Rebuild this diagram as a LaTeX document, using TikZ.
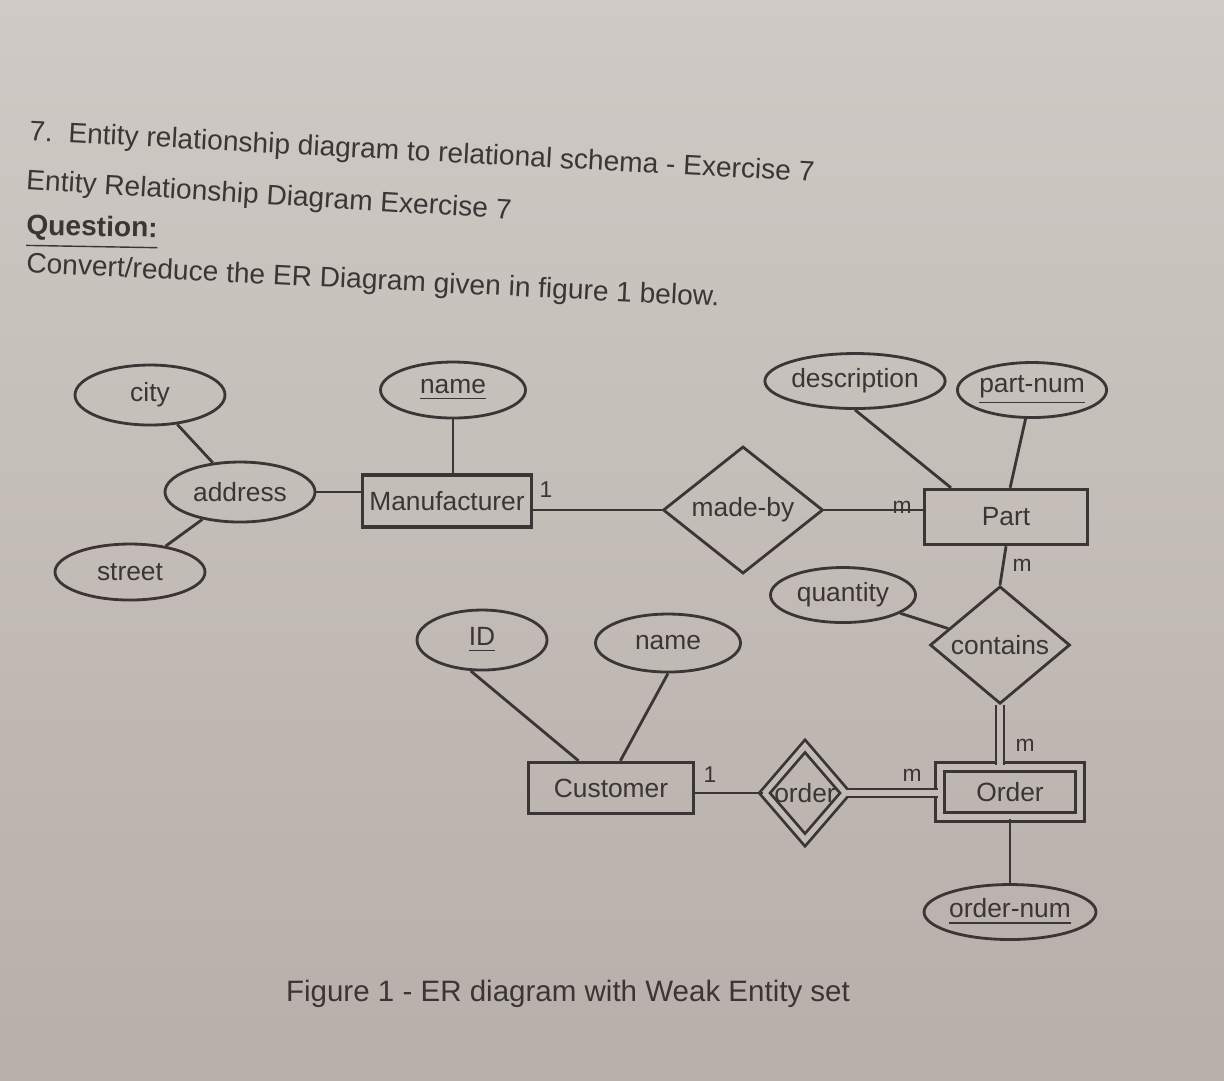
\documentclass[tikz,border=0pt]{standalone}
\usepackage{fontspec}
\setmainfont{Liberation Sans}
\usetikzlibrary{shapes.geometric}
\definecolor{paperTop}{HTML}{CFCAC5}
\definecolor{paperMid}{HTML}{C3BCB6}
\definecolor{paperBot}{HTML}{B7AFA9}
\definecolor{inkGrey}{HTML}{3B3535}

\begin{document}
\begin{tikzpicture}[x=0.1mm, y=-0.1mm, color=inkGrey, line width=0.8pt,
    every node/.style={font=\fontsize{7.5}{9}\selectfont},
    attr/.style={draw, ellipse, inner sep=0pt},
    entity/.style={draw, rectangle, inner sep=0pt, line width=1pt},
    rel/.style={draw, diamond, inner sep=0pt},
    weak/.style={double=paperMid, double distance=1.5pt},
    card/.style={inner sep=1pt, font=\fontsize{6.5}{7}\selectfont},
    head/.style={anchor=west, inner sep=0pt, font=\fontsize{8}{10}\selectfont}]

    % paper
    \useasboundingbox (0,0) rectangle (1224,1080);
    \shade[top color=paperTop, bottom color=paperBot] (0,0) rectangle (1224,1080);

    % heading
    \node[head, rotate=-3] (t1) at (28,133) {7.\ \ Entity relationship diagram to relational schema - Exercise 7};
    \node[head, rotate=-3.5] (t2) at (25,182) {Entity Relationship Diagram Exercise 7};
    \node[head, rotate=-1] (t3) at (25,231) {\textbf{\underline{Question:}}};
    \node[head, rotate=-2.8] (t4) at (25,265) {Convert/reduce the ER Diagram given in figure 1 below.};

    % entities
    \node[entity, minimum width=1.69cm, minimum height=0.52cm] (manu) at (447,501) {Manufacturer};
    \node[entity, minimum width=1.63cm, minimum height=0.55cm] (part) at (1006,517) {Part};
    \node[entity, minimum width=1.65cm, minimum height=0.51cm] (cust) at (611,788) {Customer};
    \node[entity, weak, minimum width=1.40cm, minimum height=0.50cm] (order) at (1010,792) {Order};

    % relationships
    \node[rel, minimum width=1.6cm, minimum height=0.76cm] (madeby) at (743,510) {made-by};
    \node[rel, minimum width=1.4cm, minimum height=0.75cm] (contains) at (1000,645) {contains};
    \node[rel, weak, aspect=0.86, minimum width=0.82cm, minimum height=0.95cm] (oorder) at (805,793) {order};

    % attributes
    \node[attr, minimum width=1.5cm, minimum height=0.6cm] (city) at (150,395) {city};
    \node[attr, minimum width=1.45cm, minimum height=0.56cm] (mname) at (453,390) {\underline{name}};
    \node[attr, minimum width=1.5cm, minimum height=0.6cm] (address) at (240,492) {address};
    \node[attr, minimum width=1.5cm, minimum height=0.56cm] (street) at (130,572) {street};
    \node[attr, minimum width=1.45cm, minimum height=0.55cm] (desc) at (855,381) {description};
    \node[attr, minimum width=1.4cm, minimum height=0.55cm] (pnum) at (1032,390) {\underline{part-num}};
    \node[attr, minimum width=1.45cm, minimum height=0.55cm] (qty) at (843,595) {quantity};
    \node[attr, minimum width=1.3cm, minimum height=0.6cm] (cid) at (482,640) {\underline{ID}};
    \node[attr, minimum width=1.45cm, minimum height=0.58cm] (cname) at (668,643) {name};
    \node[attr, minimum width=1.4cm, minimum height=0.55cm] (onum) at (1010,912) {\underline{order-num}};

    % attribute links
    \draw (city) -- (address);
    \draw (street) -- (address);
    \draw (address.east) -- (address.east -| manu.west);
    \draw (mname.south) -- (mname.south |- manu.north);
    \draw (desc.south) -- (part.152);
    \draw (pnum) -- (part.82);
    \draw (qty) -- (contains);
    \draw (cid.250) -- (cust.140);
    \draw (cname.south) -- (cust.71);
    \draw (order.south) -- (onum.north);

    % relationship links
    \draw (madeby.west -| manu.east) -- (madeby.west);
    \draw (madeby.east) -- (madeby.east -| part.west);
    \draw (part.south) -- (contains.north);
    \draw[weak] (contains.south) -- (contains.south |- order.north);
    \draw (oorder.west -| cust.east) -- (oorder.west);
    \draw[weak] (oorder.east) -- (oorder.east -| order.west);

    % cardinalities
    \node[card] (c1) at (546,490) {1};
    \node[card] (c2) at (902,507) {m};
    \node[card] (c3) at (1022,565) {m};
    \node[card] (c4) at (1025,745) {m};
    \node[card] (c5) at (710,775) {1};
    \node[card] (c6) at (912,775) {m};

    % caption
    \node[font=\fontsize{8.4}{10}\selectfont] (cap) at (568,994) {Figure 1 - ER diagram with Weak Entity set};

\end{tikzpicture}
\end{document}
